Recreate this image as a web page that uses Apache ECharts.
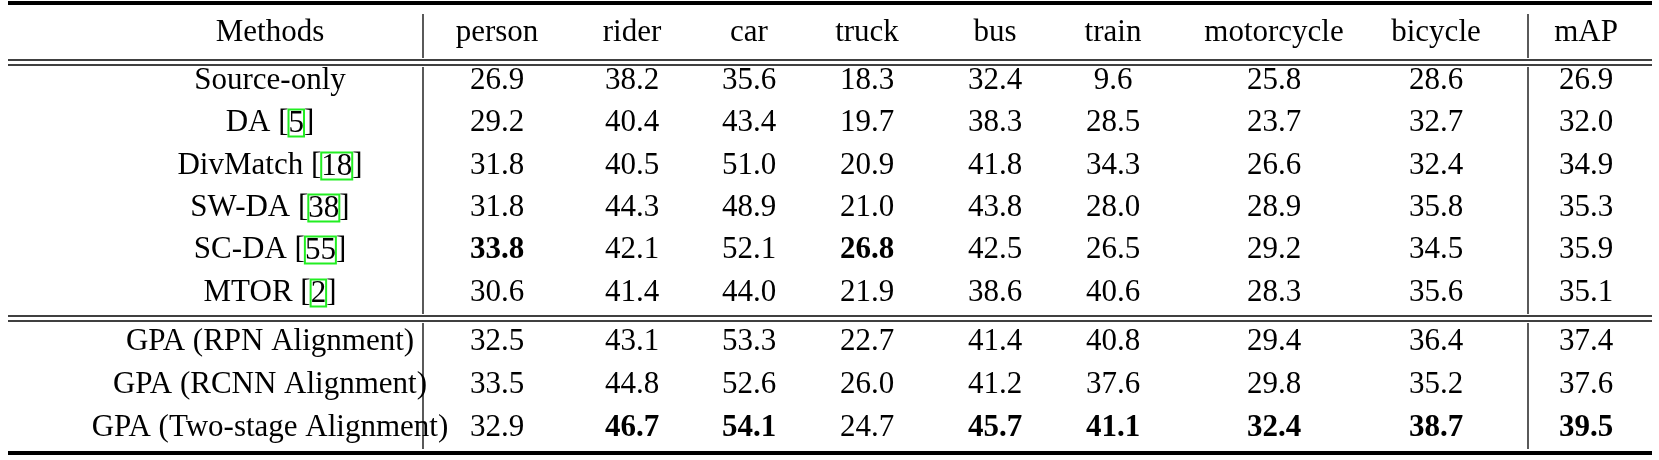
<!DOCTYPE html>
<html><head><meta charset="utf-8">
<script src="https://cdn.jsdelivr.net/npm/echarts@6/dist/echarts.min.js"></script>
<style>html,body{margin:0;padding:0;background:#fff}#c{width:1659px;height:460px}</style>
</head><body><div id="c"></div>
<script>
const headers = ['Methods','person','rider','car','truck','bus','train','motorcycle','bicycle','mAP'];
const methods = ['Source-only','DA','DivMatch','SW-DA','SC-DA','MTOR','GPA (RPN Alignment)','GPA (RCNN Alignment)','GPA (Two-stage Alignment)'];
const cites = ['', '5', '18', '38', '55', '2', '', '', ''];
const values = [
  ['26.9','38.2','35.6','18.3','32.4','9.6','25.8','28.6','26.9'],
  ['29.2','40.4','43.4','19.7','38.3','28.5','23.7','32.7','32.0'],
  ['31.8','40.5','51.0','20.9','41.8','34.3','26.6','32.4','34.9'],
  ['31.8','44.3','48.9','21.0','43.8','28.0','28.9','35.8','35.3'],
  ['33.8','42.1','52.1','26.8','42.5','26.5','29.2','34.5','35.9'],
  ['30.6','41.4','44.0','21.9','38.6','40.6','28.3','35.6','35.1'],
  ['32.5','43.1','53.3','22.7','41.4','40.8','29.4','36.4','37.4'],
  ['33.5','44.8','52.6','26.0','41.2','37.6','29.8','35.2','37.6'],
  ['32.9','46.7','54.1','24.7','45.7','41.1','32.4','38.7','39.5']
];
const bold = [[4,0],[4,3],[8,1],[8,2],[8,4],[8,5],[8,6],[8,7],[8,8]];

// layout
const colX = [270,497,632,749,867,995,1113,1274,1436,1586];
const headerY = 33;
const rowY = [81,123,166,208,250,293,342,385,428];

const cells = [];
headers.forEach((h,c)=>cells.push({value:[colX[c],headerY], txt:h, b:false, cite:''}));
methods.forEach((m,r)=>{
  cells.push({value:[colX[0],rowY[r]], txt:m, b:false, cite:cites[r]});
  values[r].forEach((v,c)=>{
    const isB = bold.some(p=>p[0]===r&&p[1]===c);
    cells.push({value:[colX[c+1],rowY[r]], txt:v, b:isB, cite:''});
  });
});

const F = '"Liberation Serif","DejaVu Serif",serif';
const chart = echarts.init(document.getElementById('c'));
function hline(y,w){return {type:'line',shape:{x1:8,y1:y,x2:1652,y2:y},style:{stroke:'#000',lineWidth:w}};}
function vline(x,y1,y2){return {type:'line',shape:{x1:x,y1:y1,x2:x,y2:y2},style:{stroke:'#000',lineWidth:1.3}};}
chart.setOption({
  animation:false,
  grid:{left:0,right:0,top:0,bottom:0},
  xAxis:{type:'value',min:0,max:1659,show:false},
  yAxis:{type:'value',min:0,max:460,inverse:true,show:false},
  graphic:[
    hline(3,4), hline(60,1.5), hline(65,1.5),
    hline(316,1.5), hline(321,1.5), hline(453,4),
    vline(423,14,58), vline(423,67,314), vline(423,323,449),
    vline(1528,14,58), vline(1528,67,314), vline(1528,323,449)
  ],
  series:[{
    type:'custom',
    coordinateSystem:'cartesian2d',
    data:cells,
    renderItem:function(params,api){
      const d = cells[params.dataIndex];
      const p = api.coord([api.value(0),api.value(1)]);
      const text = d.cite ? d.txt + ' [{c|' + d.cite + '}]' : d.txt;
      return {type:'text', x:p[0], y:p[1], style:{
        text:text, fontFamily:F, fontSize:31, fontWeight:d.b?'bold':'normal',
        fill:'#000', align:'center', verticalAlign:'middle',
        rich:{c:{fontFamily:F,fontSize:31,fill:'#000',borderColor:'#22ee22',borderWidth:2,padding:[-1,0,-3,0]}}
      }};
    }
  }]
});
</script></body></html>
